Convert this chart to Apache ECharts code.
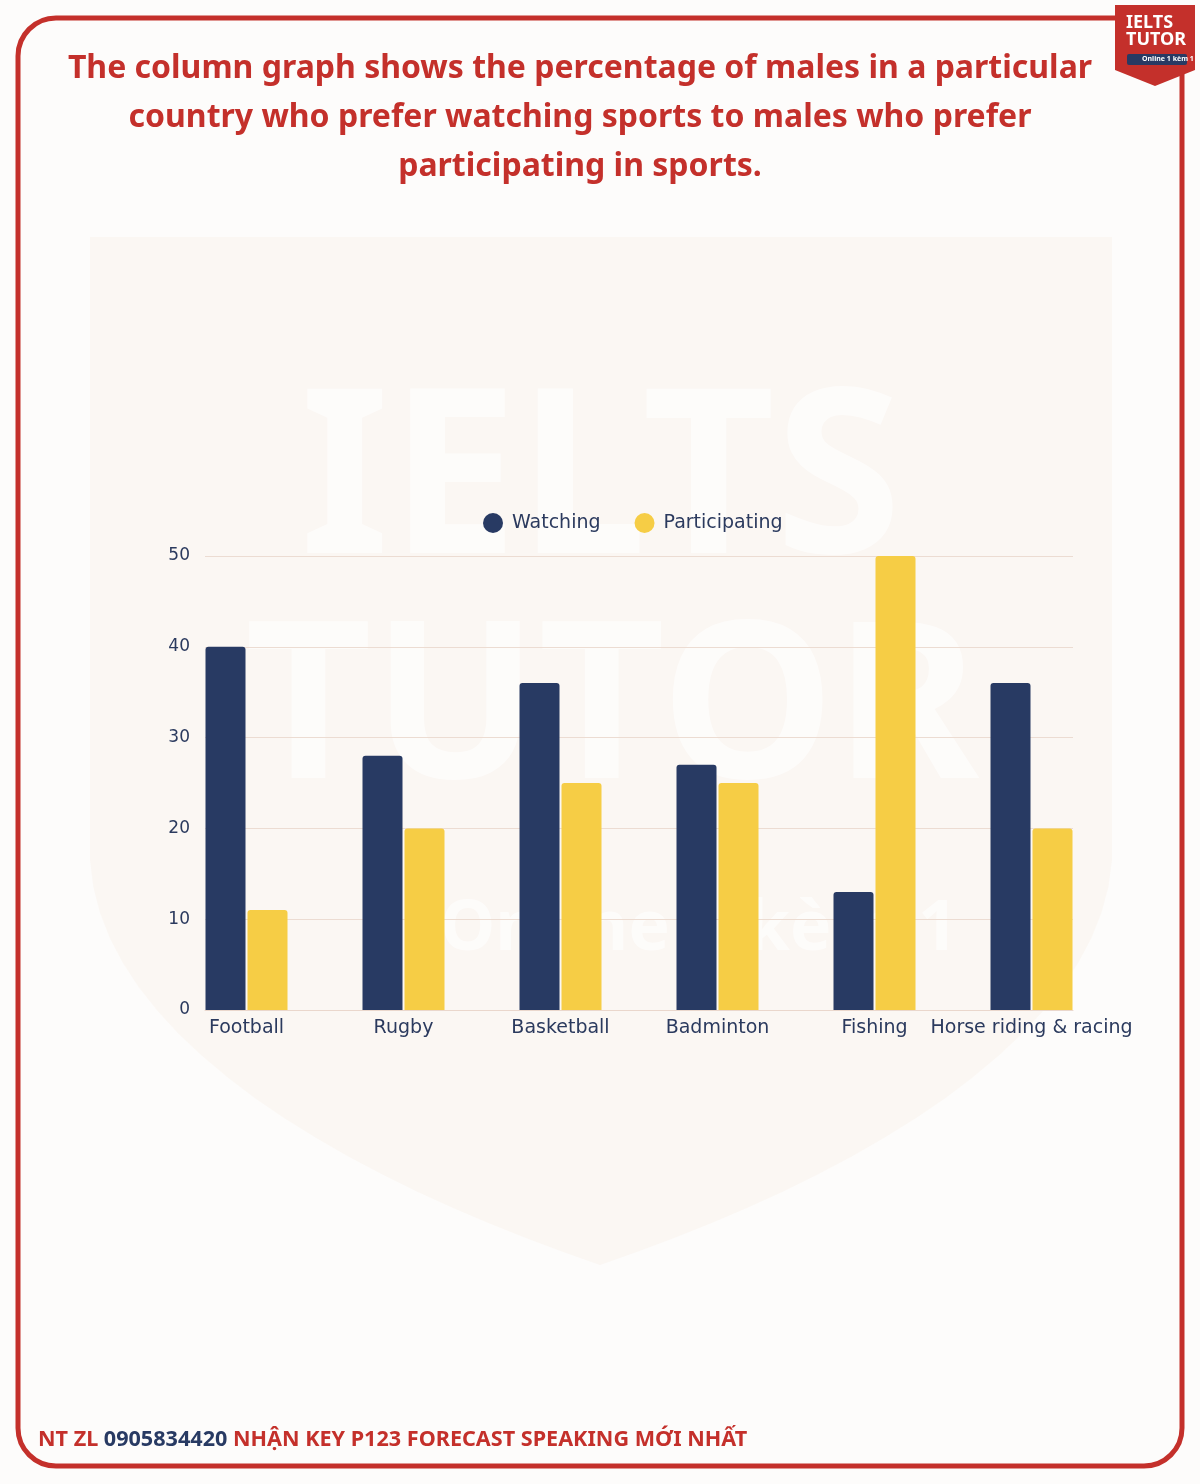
<!DOCTYPE html>
<html>
<head>
<meta charset="utf-8">
<script src="https://cdn.jsdelivr.net/npm/echarts@6/dist/echarts.min.js"></script>
<style>
html,body{margin:0;padding:0;background:#fdfcfb;}
#main{width:1200px;height:1484px;}
</style>
</head>
<body>
<div id="main"></div>
<script>
// data
var sports = ['Football', 'Rugby', 'Basketball', 'Badminton', 'Fishing', 'Horse riding & racing']
var watching = [40, 28, 36, 27, 13, 36]
var participating = [11, 20, 25, 25, 50, 20]
var yTicks = [0, 10, 20, 30, 40, 50]

var red = '#c4302b'
var navy = '#283a63'
var yellow = '#f6cd45'
var font = '"Noto Sans", sans-serif'
var axisFont = '"DejaVu Sans", sans-serif'

// watermark shield outline (decoration only)
function bez(p0, p1, p2, p3, n) {
    var out = []
    for (var i = 1; i <= n; i++) {
        var t = i / n, u = 1 - t
        out.push([
            u*u*u*p0[0] + 3*u*u*t*p1[0] + 3*u*t*t*p2[0] + t*t*t*p3[0],
            u*u*u*p0[1] + 3*u*u*t*p1[1] + 3*u*t*t*p2[1] + t*t*t*p3[1]
        ])
    }
    return out
}
var shield = [[90, 237], [1112, 237], [1112, 860]]
    .concat(bez([1112, 860], [1100, 1040], [850, 1180], [600, 1265], 20))
    .concat(bez([600, 1265], [350, 1180], [100, 1040], [90, 860], 20))

var chart = echarts.init(document.getElementById('main'))

var option = {
    backgroundColor: '#fdfcfb',
    animation: false,
    title: {
        text: 'The column graph shows the percentage of males in a particular\ncountry who prefer watching sports to males who prefer\nparticipating in sports.',
        left: 575,
        top: 39,
        textAlign: 'center',
        textStyle: {
            color: red,
            fontFamily: font,
            fontWeight: 'bold',
            fontSize: 32,
            lineHeight: 49
        }
    },
    legend: {
        data: ['Watching', 'Participating'],
        left: 478,
        top: 508,
        icon: 'circle',
        itemWidth: 20,
        itemHeight: 20,
        itemGap: 34,
        textStyle: {color: '#2b3a5e', fontFamily: axisFont, fontSize: 19, padding: [0, 0, 0, 4]}
    },
    // grid 0: gridlines and y axis, grid 1: bars
    grid: [
        {left: 205, right: 127, top: 556, bottom: 474},
        {left: 168, right: 90, top: 556, bottom: 474}
    ],
    xAxis: [
        {
            type: 'category', gridIndex: 0, data: sports,
            axisLine: {lineStyle: {color: '#ead7cc'}},
            axisTick: {show: false},
            axisLabel: {show: false}
        },
        {
            type: 'category', gridIndex: 1, data: sports,
            axisLine: {show: false},
            axisTick: {show: false},
            axisLabel: {interval: 0, color: '#2b3a5e', fontFamily: axisFont, fontSize: 19, margin: 9}
        }
    ],
    yAxis: [
        {
            type: 'value', gridIndex: 0, min: 0, max: 50, interval: 10,
            axisLine: {show: false},
            axisTick: {show: false},
            axisLabel: {color: '#2b3a5e', fontFamily: axisFont, fontSize: 17, margin: 15},
            splitLine: {lineStyle: {color: '#ecdcd2'}}
        },
        {
            type: 'value', gridIndex: 1, min: 0, max: 50, interval: 10,
            show: false
        }
    ],
    series: [
        {
            name: 'Watching', type: 'bar', xAxisIndex: 1, yAxisIndex: 1,
            data: watching, barWidth: 40, barGap: '5%',
            itemStyle: {color: navy, borderRadius: [3, 3, 0, 0]}
        },
        {
            name: 'Participating', type: 'bar', xAxisIndex: 1, yAxisIndex: 1,
            data: participating, barWidth: 40, barGap: '5%',
            itemStyle: {color: yellow, borderRadius: [3, 3, 0, 0]}
        }
    ],
    graphic: [
        // faint watermark shield
        {
            type: 'polygon', z: -10, silent: true,
            shape: {points: shield},
            style: {fill: 'rgba(240,206,186,0.11)'}
        },
        {
            type: 'text', z: -9, left: 300, top: 372, silent: true,
            style: {text: 'IELTS', fill: 'rgba(255,255,255,0.6)', font: 'bold 230px ' + font}
        },
        {
            type: 'text', z: -9, left: 245, top: 605, silent: true,
            style: {text: 'TUTOR', fill: 'rgba(255,255,255,0.6)', font: 'bold 220px ' + font}
        },
        {
            type: 'text', z: -9, left: 440, top: 895, silent: true,
            style: {text: 'Online 1 kèm 1', fill: 'rgba(255,255,255,0.6)', font: 'bold 70px ' + font}
        },
        // frame
        {
            type: 'rect', z: 5, silent: true,
            shape: {x: 18, y: 18, width: 1164, height: 1448, r: 38},
            style: {fill: 'none', stroke: red, lineWidth: 5}
        },
        // logo
        {
            type: 'polygon', z: 6, silent: true,
            shape: {points: [[1115, 5], [1195, 5], [1195, 70], [1155, 86], [1115, 70]]},
            style: {fill: red}
        },
        {
            type: 'text', z: 7, left: 1126, top: 14, silent: true,
            style: {text: 'IELTS\nTUTOR', fill: '#fff', font: 'bold 18px ' + font, lineHeight: 17}
        },
        {
            type: 'rect', z: 7, silent: true,
            shape: {x: 1127, y: 54, width: 60, height: 11, r: 2},
            style: {fill: '#283a63'}
        },
        {
            type: 'text', z: 8, left: 1142, top: 55, silent: true,
            style: {text: 'Online 1 kèm 1', fill: '#fff', font: 'bold 7px ' + font}
        },
        // footer
        {
            type: 'text', z: 7, left: 38, top: 1429, silent: true,
            style: {
                text: '{r|NT ZL }{b|0905834420}{r| NHẬN KEY P123 FORECAST SPEAKING MỚI NHẤT}',
                rich: {
                    r: {fill: red, font: 'bold 21.6px ' + font},
                    b: {fill: navy, font: 'bold 21.6px ' + font}
                }
            }
        }
    ]
}

chart.setOption(option)
</script>
</body>
</html>
